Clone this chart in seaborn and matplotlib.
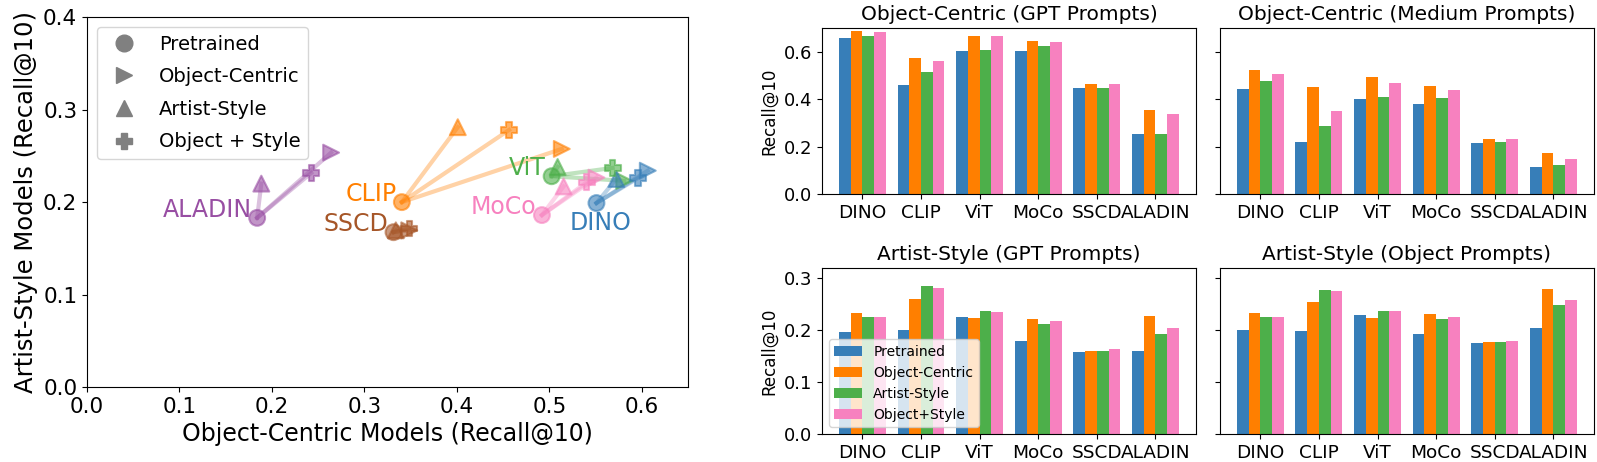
import matplotlib
matplotlib.use('Agg')
import matplotlib.pyplot as plt
from matplotlib.lines import Line2D
import seaborn as sns
import numpy as np
import pandas as pd

models = ['DINO', 'CLIP', 'ViT', 'MoCo', 'SSCD', 'ALADIN']
methods = ['Pretrained', 'Object-Centric', 'Artist-Style', 'Object+Style']

# rows = methods, cols = models
obj_gpt = [[0.658, 0.461, 0.604, 0.604, 0.448, 0.254],
           [0.689, 0.575, 0.668, 0.646, 0.465, 0.355],
           [0.668, 0.515, 0.608, 0.625, 0.448, 0.254],
           [0.685, 0.562, 0.668, 0.642, 0.465, 0.337]]
obj_medium = [[0.444, 0.220, 0.401, 0.380, 0.215, 0.114],
              [0.524, 0.452, 0.494, 0.456, 0.232, 0.173],
              [0.477, 0.287, 0.410, 0.406, 0.220, 0.123],
              [0.507, 0.351, 0.469, 0.439, 0.232, 0.148]]
art_gpt = [[0.197, 0.201, 0.226, 0.180, 0.159, 0.161],
           [0.234, 0.261, 0.223, 0.221, 0.161, 0.228],
           [0.225, 0.285, 0.238, 0.213, 0.161, 0.192],
           [0.226, 0.281, 0.236, 0.217, 0.163, 0.204]]
art_object = [[0.201, 0.199, 0.230, 0.192, 0.176, 0.205],
              [0.234, 0.254, 0.223, 0.232, 0.178, 0.279],
              [0.225, 0.277, 0.238, 0.221, 0.178, 0.248],
              [0.226, 0.275, 0.238, 0.226, 0.180, 0.259]]

panel_titles = ['Object-Centric (GPT Prompts)', 'Object-Centric (Medium Prompts)',
                'Artist-Style (GPT Prompts)', 'Artist-Style (Object Prompts)']
panels = [obj_gpt, obj_medium, art_gpt, art_object]

legend_names = ['Pretrained', 'Object-Centric', 'Artist-Style', 'Object + Style']
method_markers = ['o', '>', '^', 'P']
model_colors = ['#377eb8', '#ff7f00', '#4daf4a', '#f781bf', '#a65628', '#984ea3']
bar_colors = ['#377eb8', '#ff7f00', '#4daf4a', '#f781bf']

# scatter = mean over the two prompt sets of each task
sx = (np.array(obj_gpt) + np.array(obj_medium)) / 2
sy = (np.array(art_gpt) + np.array(art_object)) / 2

rows = []
for i, m in enumerate(methods):
    for j, mod in enumerate(models):
        rows.append({'model': mod, 'method': m, 'x': sx[i, j], 'y': sy[i, j]})
scat = pd.DataFrame(rows)

fig = plt.figure(figsize=(15.97, 4.62), dpi=100)

# ---- left scatter
ax = fig.add_axes([0.0545, 0.162, 0.3763, 0.801])
for j, mod in enumerate(models):
    for i in range(1, 4):
        ax.plot([sx[0, j], sx[i, j]], [sy[0, j], sy[i, j]], color=model_colors[j],
                alpha=0.35, lw=3, zorder=1)
sns.scatterplot(data=scat, x='x', y='y', hue='model', style='method',
                hue_order=models, style_order=methods,
                palette=model_colors, markers=dict(zip(methods, method_markers)),
                s=130, alpha=0.6, edgecolor='face', linewidth=1.5,
                legend=False, ax=ax, zorder=2)
for j, mod in enumerate(models):
    if mod == 'DINO':
        ax.text(sx[0, j] + 0.004, sy[0, j] - 0.022, mod, color=model_colors[j],
                fontsize=17, ha='center', va='center')
    else:
        ax.text(sx[0, j] - 0.006, sy[0, j] + 0.009, mod, color=model_colors[j],
                fontsize=17, ha='right', va='center')
ax.set_xlim(0, 0.65)
ax.set_ylim(0, 0.4)
ax.set_xticks(np.arange(0, 0.61, 0.1))
ax.set_yticks(np.arange(0, 0.41, 0.1))
ax.tick_params(labelsize=15.5)
ax.set_xlabel('Object-Centric Models (Recall@10)', fontsize=17)
ax.set_ylabel('Artist-Style Models (Recall@10)', fontsize=17.5)
handles = [Line2D([], [], marker=mk, color='gray', linestyle='none', markersize=12)
           for mk in method_markers]
ax.legend(handles, legend_names, loc='upper left', fontsize=14, labelspacing=0.7)

# ---- right bar panels
gs = fig.add_gridspec(2, 2, left=0.5147, right=0.998, top=0.939, bottom=0.0606,
                      wspace=0.064, hspace=0.446)
for k, (vals, title) in enumerate(zip(panels, panel_titles)):
    bx = fig.add_subplot(gs[k // 2, k % 2])
    df = pd.DataFrame([{'model': models[j], 'method': methods[i], 'recall': vals[i][j]}
                       for i in range(4) for j in range(6)])
    sns.barplot(data=df, x='model', y='recall', hue='method', order=models,
                hue_order=methods, palette=bar_colors, saturation=1, errorbar=None,
                legend=(k == 2), ax=bx)
    bx.set_title(title, fontsize=14.5)
    bx.set_xlabel('')
    bx.set_xlim(-0.69, 5.69)
    if k < 2:
        bx.set_ylim(0, 0.70)
        bx.set_yticks([0, 0.2, 0.4, 0.6])
    else:
        bx.set_ylim(0, 0.32)
        bx.set_yticks([0, 0.1, 0.2, 0.3])
    bx.tick_params(axis='x', labelsize=13.3)
    bx.tick_params(axis='y', labelsize=13)
    if k % 2 == 0:
        bx.set_ylabel('Recall@10', fontsize=12)
    else:
        bx.set_ylabel('')
        bx.tick_params(labelleft=False)
    if k == 2:
        sns.move_legend(bx, 'lower left', title=None, fontsize=10)

fig.savefig('out.png', dpi=100)
